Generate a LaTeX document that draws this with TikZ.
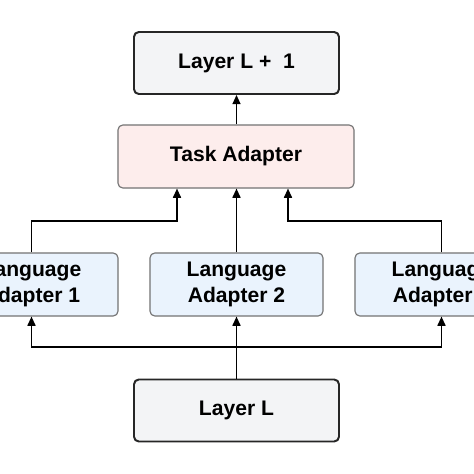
\documentclass[tikz,border=0pt]{standalone}
\usepackage{fontspec}
\setmainfont{Liberation Sans}
\usetikzlibrary{arrows.meta}

\definecolor{layerfill}{HTML}{F3F4F6}
\definecolor{taskfill}{HTML}{FDEDEC}
\definecolor{langfill}{HTML}{EAF3FD}

\tikzset{
  layerbox/.style={draw=black!85,line width=1.4pt,fill=layerfill,rounded corners=1.2mm,
    minimum width=5.125cm,minimum height=1.55cm,font=\fontsize{15}{18}\selectfont\bfseries},
  taskbox/.style={draw=black!55,line width=0.8pt,fill=taskfill,rounded corners=1.2mm,
    minimum width=5.9cm,minimum height=1.575cm,font=\fontsize{15}{18}\selectfont\bfseries},
  langbox/.style={draw=black!55,line width=0.8pt,fill=langfill,rounded corners=1.2mm,
    minimum width=4.325cm,minimum height=1.575cm,align=center,
    font=\fontsize{15}{18}\selectfont\bfseries},
  arr/.style={line width=1.1pt,-{Triangle[length=2.3mm,width=2mm]}}
}

\begin{document}
\begin{tikzpicture}
\useasboundingbox[fill=white] (0,0) rectangle (11.85,11.85);

% boxes
\node[layerbox] (layerup) at (5.9125,10.275) {Layer L +\ \ 1};
\node[taskbox] (task) at (5.9,7.9375) {Task Adapter};
\node[langbox] (lang1) at (0.7875,4.7375) {Language\\Adapter 1};
\node[langbox] (lang2) at (5.9125,4.7375) {Language\\Adapter 2};
\node[langbox] (lang3) at (11.0375,4.7375) {Language\\Adapter 3};
\node[layerbox] (layer) at (5.9125,1.5875) {Layer L};

% layer L to the language adapters
\coordinate (split) at (5.9125,3.175);
\draw[line width=1.1pt] (layer.north) -- (split);
\draw[arr] (split) -| (lang1.south);
\draw[arr] (split) -| (lang3.south);
\draw[arr] (split) -- (lang2.south);

% language adapters to the task adapter
\coordinate (join1) at (4.425,6.325);
\coordinate (join3) at (7.2,6.325);
\draw[arr] (lang1.north) |- (join1) -- (join1 |- task.south);
\draw[arr] (lang3.north) |- (join3) -- (join3 |- task.south);
\draw[arr] (lang2.north) -- (lang2.north |- task.south);

% task adapter to layer L+1
\draw[arr] (task.north -| layerup.south) -- (layerup.south);
\end{tikzpicture}
\end{document}
